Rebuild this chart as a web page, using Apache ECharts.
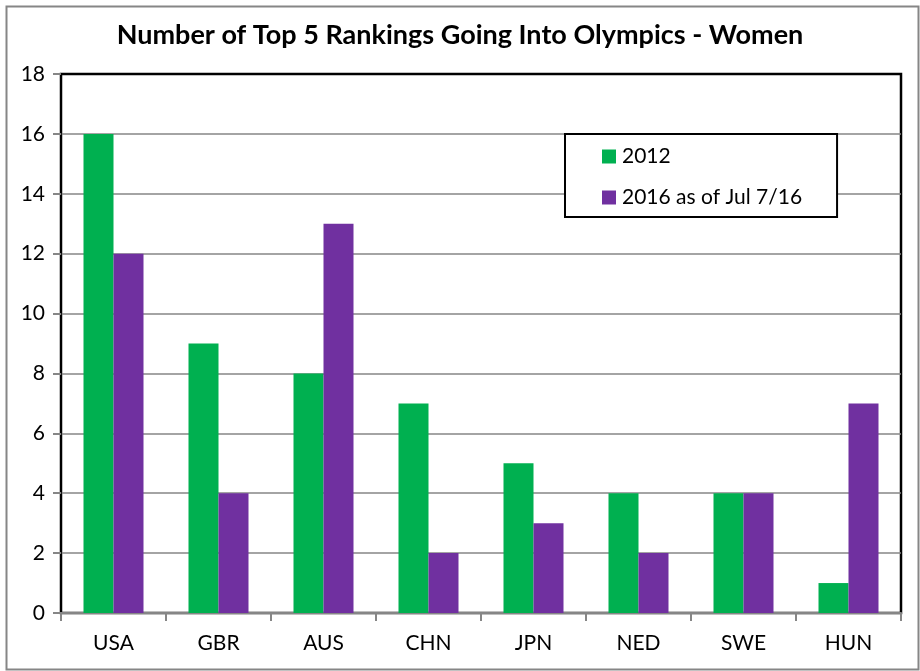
<!DOCTYPE html>
<html>
<head>
<meta charset="utf-8">
<script src="https://cdn.jsdelivr.net/npm/echarts@6/dist/echarts.min.js"></script>
<style>
  html, body { margin: 0; padding: 0; background: #fff; }
  #chart { width: 920px; height: 671px; }
</style>
</head>
<body>
<div id="chart"></div>
<script>
// countries on the x axis
var countries = ['USA', 'GBR', 'AUS', 'CHN', 'JPN', 'NED', 'SWE', 'HUN']
// top 5 rankings counts
var rank2012 = [16, 9, 8, 7, 5, 4, 4, 1]
var rank2016 = [12, 4, 13, 2, 3, 2, 4, 7]
var seriesNames = ['2012', '2016 as of Jul 7/16']

var font = 'Lato, "Liberation Sans", sans-serif'
var myChart = echarts.init(document.getElementById('chart'))

var option = {
  backgroundColor: '#fff',
  animation: false,
  title: {
    text: 'Number of Top 5 Rankings Going Into Olympics - Women',
    left: 'center',
    top: 17,
    textStyle: { fontFamily: font, fontSize: 27, fontWeight: 'bold', color: '#000' }
  },
  legend: {
    orient: 'vertical',
    left: 565,
    top: 134,
    padding: [12, 35, 9, 37],
    itemGap: 20,
    itemWidth: 14,
    itemHeight: 14,
    borderColor: '#000',
    borderWidth: 2,
    backgroundColor: '#fff',
    icon: 'rect',
    textStyle: { fontFamily: font, fontSize: 21, color: '#000', padding: [0, 0, 0, 1] },
    data: seriesNames
  },
  grid: {
    left: 61,
    right: 19,
    top: 74,
    bottom: 58,
    show: true,
    borderColor: '#000',
    borderWidth: 2.5,
    containLabel: false
  },
  xAxis: {
    type: 'category',
    data: countries,
    axisLine: { lineStyle: { color: '#868686', width: 2 } },
    axisTick: { show: true, length: 8, lineStyle: { color: '#868686', width: 2 } },
    axisLabel: { fontFamily: font, fontSize: 21, color: '#000', margin: 20 }
  },
  yAxis: {
    type: 'value',
    min: 0,
    max: 18,
    interval: 2,
    axisLine: { show: true, lineStyle: { color: '#000', width: 1.5 } },
    axisTick: { show: true, length: 8, lineStyle: { color: '#868686', width: 2 } },
    splitLine: { showMaxLine: false, lineStyle: { color: '#868686', width: 1.5 } },
    axisLabel: { fontFamily: font, fontSize: 21, color: '#000', margin: 16 }
  },
  series: [
    {
      name: seriesNames[0],
      type: 'bar',
      data: rank2012,
      barWidth: 30,
      barGap: '0%',
      itemStyle: { color: '#00B050' }
    },
    {
      name: seriesNames[1],
      type: 'bar',
      data: rank2016,
      barWidth: 30,
      barGap: '0%',
      itemStyle: { color: '#7030A0' }
    }
  ],
  graphic: [
    {
      type: 'rect',
      left: 4,
      top: 4,
      shape: { width: 912, height: 663 },
      style: { fill: 'none', stroke: '#868686', lineWidth: 2 },
      silent: true
    }
  ]
}

myChart.setOption(option)
</script>
</body>
</html>
